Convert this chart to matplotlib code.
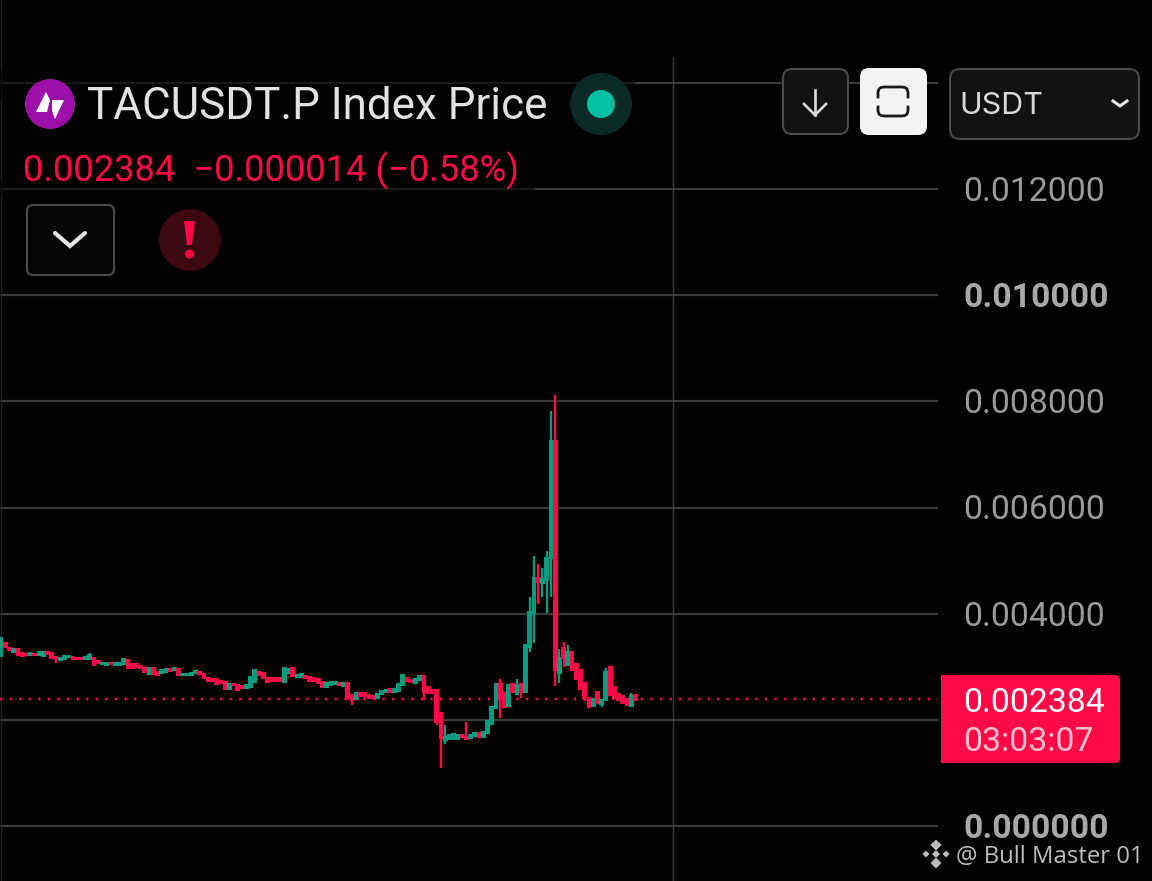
import matplotlib
matplotlib.use("Agg")
import matplotlib.pyplot as plt
from matplotlib.patches import Circle, FancyBboxPatch, Rectangle, Polygon
from matplotlib.transforms import blended_transform_factory

# prices in thousandths of USDT
opens = [3.20,3.44,3.35,3.27,3.33,3.25,3.24,3.22,3.24,3.22,3.20,3.28,3.25,3.19,3.13,3.15,3.18,3.18,3.17,3.17,
         3.15,3.14,3.16,3.11,3.05,3.04,3.08,3.04,3.04,3.05,3.13,3.05,3.05,3.01,2.98,2.86,2.97,2.91,2.88,2.90,
         2.95,2.94,2.96,2.84,2.84,2.85,2.88,2.91,2.86,2.78,2.77,2.76,2.74,2.71,2.58,2.68,2.66,2.64,2.60,2.62,
         2.72,2.91,2.88,2.78,2.78,2.78,2.78,2.72,2.88,2.97,2.81,2.80,2.83,2.80,2.78,2.76,2.71,2.62,2.66,2.67,
         2.70,2.64,2.69,2.47,2.39,2.50,2.51,2.47,2.45,2.42,2.49,2.53,2.59,2.53,2.54,2.66,2.78,2.75,2.69,2.75,
         2.83,2.62,2.56,2.56,2.12,1.62,1.63,1.63,1.63,1.71,1.68,1.65,1.70,1.75,1.67,1.76,1.92,2.22,2.68,2.51,
         2.26,2.68,2.49,2.68,2.53,3.38,4.04,4.67,4.57,4.63,5.04,7.26,2.89,3.35,3.03,3.28,3.06,2.93,2.69,2.41,
         2.26,2.53,2.30,2.38,3.00,2.62,2.49,2.45,2.39,2.26,2.47]
closes = [3.55,3.38,3.32,3.34,3.22,3.21,3.22,3.25,3.22,3.27,3.28,3.24,3.16,3.14,3.17,3.20,3.21,3.15,3.15,3.15,
          3.18,3.23,3.03,3.07,3.08,3.08,3.05,3.08,3.08,3.14,2.98,2.98,3.00,2.98,2.91,2.98,2.86,2.84,2.93,2.95,
          2.92,2.98,2.84,2.86,2.86,2.89,2.92,2.86,2.78,2.74,2.74,2.68,2.69,2.58,2.67,2.65,2.57,2.60,2.66,2.80,
          2.94,2.84,2.78,2.72,2.73,2.73,2.73,2.98,2.95,2.83,2.85,2.86,2.79,2.73,2.73,2.69,2.62,2.69,2.72,2.72,
          2.66,2.70,2.41,2.37,2.51,2.44,2.45,2.42,2.41,2.49,2.54,2.57,2.52,2.59,2.67,2.84,2.74,2.71,2.76,2.83,
          2.52,2.51,2.50,1.95,1.65,1.68,1.71,1.73,1.71,1.67,1.63,1.71,1.75,1.67,1.78,1.97,2.25,2.68,2.41,2.24,
          2.66,2.53,2.66,2.53,3.41,4.04,4.67,4.60,4.65,5.04,7.26,2.94,3.16,3.16,3.28,2.94,2.76,2.59,2.41,2.24,
          2.39,2.31,2.38,2.90,2.47,2.42,2.37,2.31,2.28,2.45,2.38]
highs = [3.56,3.46,3.36,3.35,3.34,3.26,3.25,3.26,3.25,3.28,3.29,3.29,3.26,3.20,3.18,3.21,3.22,3.19,3.18,3.18,
         3.19,3.25,3.17,3.12,3.09,3.09,3.09,3.09,3.09,3.15,3.14,3.06,3.06,3.02,2.99,2.99,2.98,2.92,2.94,2.96,
         2.96,2.99,2.97,2.87,2.87,2.90,2.93,2.92,2.87,2.79,2.78,2.77,2.75,2.72,2.68,2.69,2.67,2.65,2.67,2.81,
         2.96,2.92,2.89,2.79,2.79,2.79,2.79,3.00,2.96,2.99,2.86,2.87,2.84,2.81,2.79,2.77,2.72,2.70,2.73,2.73,
         2.71,2.71,2.70,2.48,2.52,2.51,2.52,2.48,2.46,2.50,2.55,2.58,2.60,2.60,2.68,2.85,2.79,2.76,2.77,2.84,
         2.84,2.63,2.57,2.57,2.13,1.90,1.72,1.75,1.72,1.72,1.95,1.72,1.76,1.76,1.79,1.98,2.26,2.69,2.76,2.52,
         2.67,2.69,2.76,2.69,3.43,4.32,5.09,4.94,4.87,5.19,7.82,8.12,3.33,3.47,3.41,3.30,3.07,2.94,2.70,2.42,
         2.40,2.54,2.39,2.97,3.01,2.63,2.50,2.46,2.40,2.51,2.48]
lows = [3.19,3.37,3.31,3.26,3.21,3.20,3.21,3.21,3.21,3.21,3.19,3.23,3.15,3.08,3.12,3.14,3.17,3.14,3.14,3.14,
        3.14,3.13,3.02,3.06,3.04,3.03,3.04,3.03,3.03,3.04,2.97,2.96,2.99,2.97,2.90,2.85,2.85,2.83,2.87,2.89,
        2.91,2.93,2.83,2.83,2.83,2.84,2.87,2.85,2.77,2.73,2.73,2.67,2.68,2.57,2.57,2.64,2.55,2.59,2.59,2.61,
        2.71,2.83,2.77,2.71,2.72,2.72,2.72,2.71,2.87,2.82,2.80,2.79,2.78,2.72,2.72,2.68,2.61,2.61,2.65,2.66,
        2.65,2.63,2.37,2.28,2.38,2.43,2.41,2.41,2.40,2.41,2.48,2.52,2.51,2.52,2.53,2.65,2.73,2.70,2.68,2.74,
        2.37,2.50,2.49,1.90,1.09,1.54,1.62,1.62,1.62,1.66,1.62,1.64,1.69,1.66,1.66,1.75,1.91,2.21,2.03,2.23,
        2.25,2.52,2.48,2.42,2.52,3.28,3.44,4.19,4.32,4.01,4.32,2.64,2.70,3.00,3.03,2.93,2.75,2.58,2.36,2.23,
        2.25,2.30,2.24,2.37,2.46,2.41,2.36,2.30,2.27,2.25,2.37]

y_ticks = [0.0, 2.0, 4.0, 6.0, 8.0, 10.0, 12.0]
y_labels = ["0.000000", "", "0.004000", "0.006000", "0.008000", "0.010000", "0.012000"]
bold_labels = {"0.000000", "0.010000"}
last_price = 2.384
title = "TACUSDT.P Index Price"
quote = "0.002384  \u22120.000014 (\u22120.58%)"
price_tag = "0.002384"
countdown = "03:03:07"

W, H = 1152, 881
PX_PER_CANDLE, X0 = 4.23, 1.0
PX_PER_UNIT, Y0 = 53.08, 826.0
GREEN, RED, GRID, TICK = "#0A9A7E", "#FF0A47", "#3A3A3A", "#9A9A9A"
FONT = ["Roboto", "DejaVu Sans"]

fig = plt.figure(figsize=(W / 100, H / 100), dpi=100, facecolor="black")
ax = fig.add_axes([0, 0, 1, 1], facecolor="black")
ax.set_xlim(-X0 / PX_PER_CANDLE, (W - X0) / PX_PER_CANDLE)
ax.set_ylim((Y0 - H) / PX_PER_UNIT, Y0 / PX_PER_UNIT)
ax.axis("off")
end_x = (938 - X0) / PX_PER_CANDLE
trans = blended_transform_factory(fig.transFigure, ax.transData)

ax.hlines(y_ticks + [14.0], ax.get_xlim()[0], end_x, color=GRID, lw=1.6, zorder=1)
ax.plot([(673 - X0) / PX_PER_CANDLE] * 2, [ax.get_ylim()[0], (Y0 - 57) / PX_PER_UNIT], color="#3C3C3C", lw=1.0, zorder=1)
ax.plot([(1 - X0) / PX_PER_CANDLE] * 2, ax.get_ylim(), color="#222222", lw=1.0, zorder=1)
ax.plot([ax.get_xlim()[0], end_x], [last_price] * 2, color=RED, lw=1.7, ls=(0, (1.0, 3.05)), zorder=2)

for i, (o, c, h, l) in enumerate(zip(opens, closes, highs, lows)):
    col = GREEN if c >= o else RED
    ax.vlines(i, l, h, color=col, lw=1.7, zorder=3)
    ax.bar(i, abs(c - o), bottom=min(o, c), width=0.66, color=col, ec=col, lw=1.5, zorder=4)

for v, s in zip(y_ticks, y_labels):
    if s:
        bold = s in bold_labels
        ax.text(963 / W, v - 0.055, s, transform=trans, family=FONT, fontsize=24.3, va="center", ha="left",
                color="#A8A8A8" if bold else TICK, fontweight="bold" if bold else "normal", zorder=6)

# interface overlay, in pixel coordinates
ui = fig.add_axes([0, 0, 1, 1], facecolor="none")
ui.set_xlim(0, W)
ui.set_ylim(H, 0)
ui.axis("off")

def rbox(x0, y0, x1, y1, r, fc, ec="none", lw=0, z=5):
    ui.add_patch(FancyBboxPatch((x0 + r, y0 + r), x1 - x0 - 2 * r, y1 - y0 - 2 * r,
                                boxstyle=f"round,pad={r},rounding_size={r}", fc=fc, ec=ec, lw=lw, zorder=z))

ui.add_patch(Rectangle((0, 70), 635, 30, fc="black", alpha=0.55, lw=0, zorder=1))
ui.add_patch(Rectangle((0, 180), 535, 15, fc="black", alpha=0.55, lw=0, zorder=1))

ui.add_patch(Circle((50, 104), 25, fc="#9C0FA8", lw=0, zorder=5))
ui.add_patch(Polygon([(46, 92), (36, 112), (47, 112), (50, 100)], fc="white", lw=0, zorder=6))
ui.add_patch(Polygon([(52, 100), (64, 100), (55, 119), (52, 111)], fc="white", lw=0, zorder=6))
ui.text(87, 107, title, family=FONT, fontsize=31.7, va="center", ha="left", color="#E2E2E2", zorder=6)
ui.add_patch(Circle((601, 104), 31, fc="#0A2A25", lw=0, zorder=5))
ui.add_patch(Circle((601, 104), 14, fc="#04BFA0", lw=0, zorder=6))
ui.text(23, 171, quote, family=FONT, fontsize=26.2, va="center", ha="left", color=RED, zorder=6)

rbox(27, 205, 114, 275, 6, "#050505", "#4A4A4A", 1.5)
ui.plot([55, 70, 85], [233, 246, 233], color="#E6E6E6", lw=3, solid_capstyle="round", solid_joinstyle="miter", zorder=6)
ui.add_patch(Circle((190, 240), 31, fc="#3B0710", lw=0, zorder=5))
ui.add_patch(Polygon([(184, 221), (195, 221), (192, 245), (187, 245)], fc=RED, lw=0, zorder=6))
ui.add_patch(Circle((189.5, 254), 4.5, fc=RED, lw=0, zorder=6))

rbox(783, 69, 848, 134, 9, "#111111", "#4A4A4A", 1.5)
ui.plot([815, 815], [90, 115], color="#DDDDDD", lw=1.9, zorder=6)
ui.plot([804, 815, 826], [104, 115, 104], color="#DDDDDD", lw=1.9, zorder=6)
rbox(860, 68, 927, 135, 9, "#F3F3F3")
bracket_x = [878, 878, 879, 881, 884, 902, 905, 907, 908, 908]
ui.plot(bracket_x, [97, 92, 89, 87.5, 87, 87, 87.5, 89, 92, 97], color="#1A1A1A", lw=2, zorder=6)
ui.plot(bracket_x, [107, 111, 114, 115.5, 116, 116, 115.5, 114, 111, 107], color="#1A1A1A", lw=2, zorder=6)
rbox(950, 69, 1139, 139, 10, "#111111", "#4A4A4A", 1.5)
ui.text(959, 106, "USDT", family=["Inter", "DejaVu Sans"], fontsize=22, va="center", ha="left", color="#D8D8D8", zorder=6)
ui.plot([1113, 1120, 1127], [101, 106, 101], color="#E6E6E6", lw=2.2, zorder=6)

ui.add_patch(Rectangle((941, 675), 170, 88, fc="#FF0A47", lw=0, zorder=5))
rbox(1090, 675, 1120, 763, 5, "#FF0A47")
ui.text(963, 703, price_tag, family=FONT, fontsize=24.3, va="center", ha="left", color="white", zorder=6)
ui.text(963, 742, countdown, family=FONT, fontsize=24.3, va="center", ha="left", color="#FFC0CF", zorder=6)

for (cx, cy, s) in [(936, 845, 5.5), (926, 854, 3.5), (946, 854, 3.5), (936, 863, 5.5), (936, 854, 4)]:
    ui.add_patch(Polygon([(cx - s, cy), (cx, cy - s), (cx + s, cy), (cx, cy + s)], fc="#BDBDBD", lw=0, zorder=6))
ui.text(956, 857, "@ Bull Master 01", family=["Open Sans", "DejaVu Sans"], fontsize=17.2, va="center", ha="left", color="#BDBDBD", zorder=6)

fig.savefig("out.png", dpi=100, facecolor="black")
